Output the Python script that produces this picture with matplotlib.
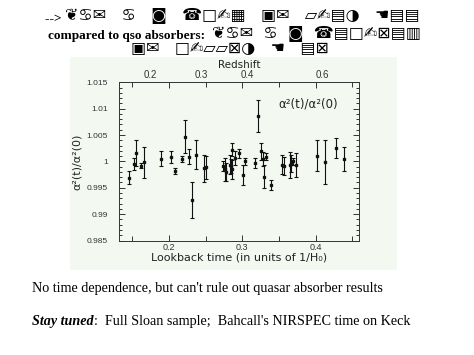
import numpy as np
import matplotlib
matplotlib.use("Agg")
import matplotlib.pyplot as plt
from matplotlib.patches import Rectangle
from matplotlib.ticker import MultipleLocator

# lookback time (units of 1/H0), alpha^2(t)/alpha^2(0) and 1-sigma errors
lookback = [0.146, 0.152, 0.1555, 0.1614, 0.166, 0.1896, 0.2023, 0.2078, 0.2182,
            0.2214, 0.2269, 0.2314, 0.2364, 0.2473, 0.2501, 0.2737, 0.2764, 0.2783,
            0.2828, 0.2842, 0.2855, 0.2866, 0.2906, 0.2951, 0.3010, 0.3042, 0.3179,
            0.3220, 0.3261, 0.3283, 0.3292, 0.3329, 0.3388, 0.3547, 0.3574, 0.3647,
            0.3670, 0.3690, 0.3729, 0.4011, 0.4124, 0.4274, 0.4387]
ratio = [0.9969, 0.9995, 1.0016, 0.9992, 0.9998, 1.0005, 1.0008, 0.9982, 1.0005,
         1.0047, 1.0009, 0.9927, 1.0013, 0.9987, 0.9989, 0.9991, 0.9985, 0.9980,
         0.9994, 0.9991, 1.0022, 0.9985, 1.0007, 1.0015, 0.9975, 1.0000, 0.9997,
         1.0086, 1.0019, 1.0005, 0.9971, 1.0009, 0.9955, 0.9994, 0.9992, 0.9993,
         0.9996, 1.0000, 0.9993, 1.0011, 0.9999, 1.0025, 1.0005]
err = [0.0012, 0.0011, 0.0024, 0.0005, 0.0030, 0.0014, 0.0011, 0.0005, 0.0006,
       0.0032, 0.0014, 0.0034, 0.0027, 0.0026, 0.0022, 0.0010, 0.0022, 0.0017,
       0.0018, 0.0013, 0.0012, 0.0018, 0.0013, 0.0009, 0.0019, 0.0007, 0.0009,
       0.0030, 0.0016, 0.0013, 0.0022, 0.0006, 0.0009, 0.0018, 0.0017, 0.0025,
       0.0016, 0.0007, 0.0023, 0.0030, 0.0041, 0.0019, 0.0023]
redshift_ticks = [0.2, 0.3, 0.4, 0.6]

# title: (plain text, symbol text) per line
title_lines = [
    ("--> ", "❦♋✉   ♋   ◙   ☎□✍▦   ▣✉   ▱✍▤◑   ☚▤▤"),
    ("compared to qso absorbers:  ", "❦♋✉  ♋  ◙  ☎▤□✍⊠▤▥"),
    ("", "▣✉   □✍▱▱⊠◑   ☚   ▤⊠"),
]
title_x = [45, 48, 131]
line1 = "No time dependence, but can't rule out quasar absorber results"
line2_a = "Stay tuned"
line2_b = ":  Full Sloan sample;  Bahcall's NIRSPEC time on Keck"

# flat LCDM (Om=0.3, OL=0.7) lookback time <-> redshift
zgrid = np.linspace(0, 3, 3001)
integrand = 1.0 / ((1 + zgrid) * np.sqrt(0.3 * (1 + zgrid) ** 3 + 0.7))
tgrid = np.concatenate([[0], np.cumsum(0.5 * (integrand[1:] + integrand[:-1]) * np.diff(zgrid))])


def t2z(t):
    return np.interp(t, tgrid, zgrid)


def z2t(z):
    return np.interp(z, zgrid, tgrid)


W, H = 474, 355
fig = plt.figure(figsize=(W / 100, H / 100), dpi=100)
fig.patch.set_facecolor("white")

# light panel behind the plot
fig.patches.append(Rectangle((70 / W, 1 - 270 / H), 327 / W, 213 / H,
                             transform=fig.transFigure, facecolor="#f3f9f1",
                             edgecolor="none", zorder=-5))

serif = ["Liberation Serif", "DejaVu Serif", "DejaVu Sans"]
symf = ["DejaVu Sans", "DejaVu Serif", "Noto Sans"]
tickf = "Liberation Sans"

ax = fig.add_axes([119 / W, 1 - 240.5 / H, 240 / W, 158.2 / H])
ax.set_facecolor("none")

for k, (plain, sym) in enumerate(title_lines):
    y = 1 - (21.5 + 17.5 * k) / H
    t = fig.text(title_x[k] / W, y, plain, ha="left", va="baseline",
                 family=serif, fontweight="bold", fontsize=9.5, color="black")
    ax.annotate(sym, xy=(1, 0), xycoords=t, ha="left", va="bottom",
                family=symf, fontsize=11.5, color="black", annotation_clip=False)

ax.errorbar(lookback, ratio, yerr=err, fmt="s", color="#111111", markersize=1.8,
            elinewidth=0.8, capsize=1.5, capthick=0.8)
ax.set_xlim(0.132, 0.459)

ax.xaxis.set_major_locator(MultipleLocator(0.1))
ax.xaxis.set_minor_locator(MultipleLocator(0.05))
ax.yaxis.set_major_locator(MultipleLocator(0.005))
ax.yaxis.set_minor_locator(MultipleLocator(0.001))
ax.set_yticks(ax.get_yticks())
ax.set_yticklabels([f"{v:g}" for v in ax.get_yticks()])
ax.set_ylim(0.985, 1.015)
ax.tick_params(which="both", direction="in", top=True, right=True,
               colors="#333333", width=0.7)
ax.tick_params(which="major", length=4)
ax.tick_params(which="minor", length=2)
ax.tick_params(axis="x", which="minor", length=3.5)
ax.tick_params(axis="x", pad=1.5, labelsize=6.5)
ax.tick_params(axis="y", pad=8, labelsize=6)
for lab in ax.get_xticklabels() + ax.get_yticklabels():
    lab.set_family(tickf)
for sp in ax.spines.values():
    sp.set_linewidth(0.7)
    sp.set_color("#333333")

ax.set_xlabel("Lookback time (in units of 1/H₀)", fontsize=8, color="#222222", labelpad=1)
ax.set_ylabel("α²(t)/α²(0)", fontsize=8, color="#222222")
ax.yaxis.set_label_coords(-0.155, 0.5)
ax.text(0.79, 0.86, "α²(t)/α²(0)", transform=ax.transAxes, ha="center",
        va="center", fontsize=8.5, color="#222222")

sec = ax.secondary_xaxis("top", functions=(t2z, z2t))
sec.set_xticks(redshift_ticks)
sec.set_xticklabels([f"{v:g}" for v in redshift_ticks], family=tickf)
sec.tick_params(length=0, pad=1.5, labelsize=7, colors="#333333")
sec.spines["top"].set_visible(False)
sec.set_xlabel("Redshift", fontsize=7.5, color="#222222", labelpad=1.5)

fig.text(32 / W, 1 - 292 / H, line1, ha="left", va="baseline",
         family=serif, fontsize=10.2, color="black")
t1 = fig.text(32 / W, 1 - 324.5 / H, line2_a, ha="left", va="baseline",
              family=serif, fontsize=10.2, fontweight="bold", fontstyle="italic",
              color="black")
ax.annotate(line2_b, xy=(1, 0), xycoords=t1, ha="left", va="bottom",
            family=serif, fontsize=10.2, color="black", annotation_clip=False)

fig.savefig("out.png", dpi=100)
